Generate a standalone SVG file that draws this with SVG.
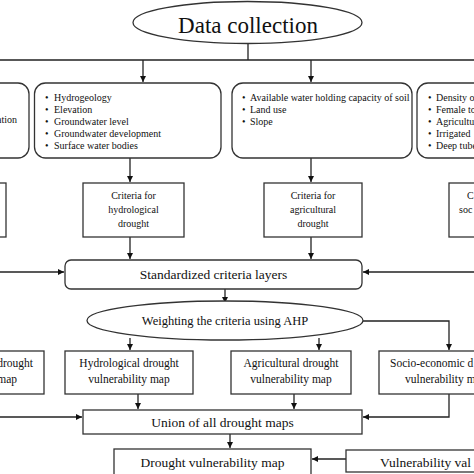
<svg xmlns="http://www.w3.org/2000/svg" width="474" height="474" viewBox="0 0 474 474">
<defs>
<marker id="ah" viewBox="0 0 10 10" refX="10" refY="5" markerWidth="6" markerHeight="6" orient="auto" markerUnits="userSpaceOnUse">
<path d="M0,0 L10,5 L0,10 z" fill="#111"/>
</marker>
<style>
.b{fill:#fff;stroke:#333;stroke-width:1.3}
.c{fill:none;stroke:#222;stroke-width:1.3}
.t{font-family:"Liberation Serif","Times New Roman",serif;fill:#111}
.s10{font-size:10px}
.s11{font-size:11.5px}
.s13{font-size:13.5px}
.m{text-anchor:middle}
</style>
</defs>
<rect width="474" height="474" fill="#fff"/>
<g id="connectors">
<path class="c" d="M248,43 V60 M0,60 H474"/>
<path class="c" d="M143,60 V82" marker-end="url(#ah)"/>
<path class="c" d="M311,60 V82" marker-end="url(#ah)"/>
<path class="c" d="M130,158 V182" marker-end="url(#ah)"/>
<path class="c" d="M311,158 V182" marker-end="url(#ah)"/>
<path class="c" d="M130,237 V259" marker-end="url(#ah)"/>
<path class="c" d="M311,237 V259" marker-end="url(#ah)"/>
<path class="c" d="M0,272 H64" marker-end="url(#ah)"/>
<path class="c" d="M474,272 H363" marker-end="url(#ah)"/>
<path class="c" d="M225,289 V303" marker-end="url(#ah)"/>
<path class="c" d="M130,338 V350" marker-end="url(#ah)"/>
<path class="c" d="M319,338 V350" marker-end="url(#ah)"/>
<path class="c" d="M363,321 H449 V350" marker-end="url(#ah)"/>
<path class="c" d="M138,394 V409" marker-end="url(#ah)"/>
<path class="c" d="M294,394 V409" marker-end="url(#ah)"/>
<path class="c" d="M449,394 V417 H363" marker-end="url(#ah)"/>
<path class="c" d="M0,417 H82" marker-end="url(#ah)"/>
<path class="c" d="M230,434 V448" marker-end="url(#ah)"/>
<path class="c" d="M346,459 H312" marker-end="url(#ah)"/>
</g>
<g id="data-collection">
<ellipse class="b" cx="247.5" cy="22.5" rx="114.5" ry="21"/>
<text class="t m" x="248" y="33" style="font-size:23px">Data collection</text>
</g>
<g id="meteo-data">
<rect class="b" x="-20" y="83" width="49" height="75" rx="11"/>
<text class="t s10" x="17" y="123" text-anchor="end">ation</text>
</g>
<g id="hydro-data">
<rect class="b" x="34.5" y="83" width="186.5" height="75" rx="11"/>
<g class="t s10">
<text x="45" y="101">•</text><text x="54" y="101">Hydrogeology</text>
<text x="45" y="113">•</text><text x="54" y="113">Elevation</text>
<text x="45" y="125">•</text><text x="54" y="125">Groundwater level</text>
<text x="45" y="137">•</text><text x="54" y="137">Groundwater development</text>
<text x="45" y="149">•</text><text x="54" y="149">Surface water bodies</text>
</g>
</g>
<g id="agri-data">
<rect class="b" x="232" y="83" width="180" height="75" rx="11"/>
<g class="t s10">
<text x="242" y="101">•</text><text x="250" y="101">Available water holding capacity of soil</text>
<text x="242" y="113">•</text><text x="250" y="113">Land use</text>
<text x="242" y="125">•</text><text x="250" y="125">Slope</text>
</g>
</g>
<g id="socio-data">
<rect class="b" x="417" y="83" width="80" height="75" rx="11"/>
<g class="t s10">
<text x="428" y="101">•</text><text x="436" y="101">Density o</text>
<text x="428" y="113">•</text><text x="436" y="113">Female to</text>
<text x="428" y="125">•</text><text x="436" y="125">Agricultu</text>
<text x="428" y="137">•</text><text x="436" y="137">Irrigated</text>
<text x="428" y="149">•</text><text x="436" y="149">Deep tube</text>
</g>
</g>
<g id="meteo-criteria">
<rect class="b" x="-40" y="183" width="46" height="54"/>
</g>
<g id="hydro-criteria">
<rect class="b" x="83" y="183" width="101" height="54"/>
<text class="t s10 m" x="133.5" y="199">Criteria for</text>
<text class="t s10 m" x="133.5" y="213">hydrological</text>
<text class="t s10 m" x="133.5" y="227">drought</text>
</g>
<g id="agri-criteria">
<rect class="b" x="264" y="183" width="98" height="54"/>
<text class="t s10 m" x="313" y="199">Criteria for</text>
<text class="t s10 m" x="313" y="213">agricultural</text>
<text class="t s10 m" x="313" y="227">drought</text>
</g>
<g id="socio-criteria">
<rect class="b" x="449" y="183" width="60" height="54"/>
<text class="t s10" x="467" y="199">C</text>
<text class="t s10" x="459" y="213">soc</text>
</g>
<g id="standardized">
<rect class="b" x="65" y="260" width="297" height="29" rx="6"/>
<text class="t s13 m" x="213.5" y="279">Standardized criteria layers</text>
</g>
<g id="weighting">
<ellipse class="b" cx="225" cy="320.5" rx="138" ry="19.5"/>
<text class="t m" x="225" y="325" style="font-size:12.5px">Weighting the criteria using AHP</text>
</g>
<g id="meteo-map">
<rect class="b" x="-40" y="351" width="84" height="43"/>
<text class="t s11" x="33" y="367" text-anchor="end">drought</text>
<text class="t s11" x="17" y="383" text-anchor="end">map</text>
</g>
<g id="hydro-map">
<rect class="b" x="65" y="351" width="128" height="43"/>
<text class="t s11 m" x="129" y="367">Hydrological drought</text>
<text class="t s11 m" x="129" y="383">vulnerability map</text>
</g>
<g id="agri-map">
<rect class="b" x="231" y="351" width="120" height="43"/>
<text class="t s11 m" x="291" y="367">Agricultural drought</text>
<text class="t s11 m" x="291" y="383">vulnerability map</text>
</g>
<g id="socio-map">
<rect class="b" x="379" y="351" width="120" height="43"/>
<text class="t s11" x="390" y="367">Socio-economic d</text>
<text class="t s11" x="405" y="383">vulnerability m</text>
</g>
<g id="union">
<rect class="b" x="83" y="410" width="279" height="24"/>
<text class="t s13 m" x="222.5" y="427">Union of all drought maps</text>
</g>
<g id="drought-map">
<rect class="b" x="114" y="449" width="197" height="40"/>
<text class="t s13 m" x="212.5" y="467">Drought vulnerability map</text>
</g>
<g id="vuln-values">
<rect class="b" x="346" y="450" width="150" height="22"/>
<text class="t s13" x="380" y="467">Vulnerability val</text>
</g>
</svg>
